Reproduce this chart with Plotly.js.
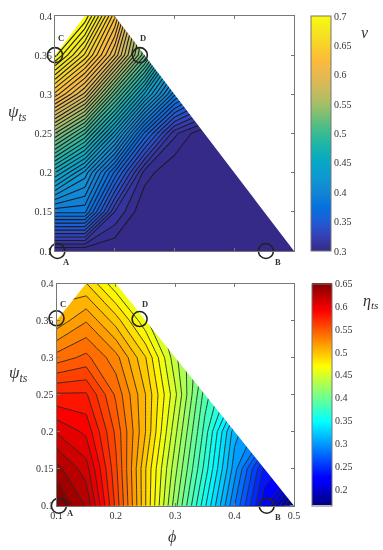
<!DOCTYPE html>
<html><head><meta charset="utf-8">
<script src="https://cdn.plot.ly/plotly-3.0.1.min.js"></script>
<style>html,body{margin:0;padding:0;background:#fff}#c{width:383px;height:550px;filter:blur(0.4px)}</style>
</head><body><div id="c"></div>
<script>
const phi=[0.1,0.15,0.2,0.25,0.3,0.35,0.4,0.45,0.5];
const psi=[0.1,0.15,0.2,0.25,0.3,0.35,0.4];
const _=null;
const nu=[
[0.30,0.30,0.30,0.30,0.30,0.30,0.30,0.30,0.30],
[0.39,0.39,0.324,0.30,0.30,0.30,0.30,0.30,_],
[0.46,0.425,0.37,0.312,0.30,0.30,0.30,_,_],
[0.54,0.50,0.44,0.37,0.318,0.30,_,_,_],
[0.625,0.585,0.515,0.45,0.39,_,_,_,_],
[0.695,0.65,0.595,0.525,_,_,_,_,_],
[_,0.70,0.63,_,_,_,_,_,_]];
const eta=[
[0.65,0.625,0.56,0.49,0.42,0.355,0.29,0.23,0.164],
[0.63,0.61,0.555,0.49,0.43,0.37,0.305,0.245,_],
[0.604,0.592,0.55,0.50,0.44,0.38,0.315,_,_],
[0.575,0.575,0.54,0.50,0.45,0.39,_,_,_],
[0.536,0.545,0.525,0.49,0.44,_,_,_,_],
[0.503,0.52,0.495,0.46,_,_,_,_,_],
[_,0.49,0.46,_,_,_,_,_,_]];
const maskX=[0.2,0.5,0.5,0.2,null,0.1,0.15,0.1,0.1];
const maskY=[0.4,0.1,0.4,0.4,null,0.35,0.4,0.4,0.35];
const markX1=[0.104,0.453,0.1,0.242], markY1=[0.1,0.1,0.35,0.35];
const markX2=[0.104,0.454,0.1,0.24], markY2=[0.1,0.1,0.353,0.352];
const yTicks=[0.1,0.15,0.2,0.25,0.3,0.35,0.4];
const yText=['0.1','0.15','0.2','0.25','0.3','0.35','0.4'];
const xTicks=[0.1,0.2,0.3,0.4,0.5];
const xText=['0.1','0.2','0.3','0.4','0.5'];
const nuBar=[0.3,0.35,0.4,0.45,0.5,0.55,0.6,0.65,0.7];
const etaBar=[0.2,0.25,0.3,0.35,0.4,0.45,0.5,0.55,0.6,0.65];
const parula=[[0,'#352a87'],[0.0625,'#363fb4'],[0.125,'#1f5cd6'],[0.1875,'#0372e0'],[0.25,'#1285d4'],[0.3125,'#0e98d1'],[0.375,'#06a7c6'],[0.4375,'#15b3ae'],[0.5,'#38bb93'],[0.5625,'#6bbe79'],[0.625,'#a5bf66'],[0.6875,'#cbbb5c'],[0.75,'#e8b94e'],[0.8125,'#fdbb3a'],[0.875,'#f7d22a'],[0.9375,'#f5e71d'],[1,'#f9fb0e']];
const jet=[[0,'#00007f'],[0.11,'#0000ff'],[0.125,'#0000ff'],[0.375,'#00ffff'],[0.625,'#ffff00'],[0.875,'#ff0000'],[1,'#7f0000']];
const W=383,H=550;
const ink='#333', frame='#777';
const serif='"Liberation Serif","Times New Roman",serif';
function pane(z,cs,lo,hi,step,start,xa,ya,lw,lc){return {type:'contour',x:phi,y:psi,z:z,xaxis:xa,yaxis:ya,colorscale:cs,zmin:lo,zmax:hi,connectgaps:true,showscale:false,hoverinfo:'skip',
 contours:{coloring:'fill',start:start,end:hi,size:step,showlines:true},line:{color:lc,width:lw,smoothing:0}};}
function bar(cs,lo,hi,vals,xa,ya,top,len,x){return {type:'scatter',x:[null],y:[null],xaxis:xa,yaxis:ya,mode:'markers',hoverinfo:'skip',
 marker:{color:[lo],cmin:lo,cmax:hi,colorscale:cs,showscale:true,colorbar:{thickness:19.5,thicknessmode:'pixels',len:len/H,lenmode:'fraction',x:x/W,xanchor:'left',xpad:0,y:1-(top+len)/H,yanchor:'bottom',ypad:0,outlinecolor:frame,outlinewidth:1,tickvals:vals,ticktext:vals.map(String),ticks:'',tickfont:{family:serif,size:10,color:ink}}}};}
function mask(xa,ya){return {type:'scatter',x:maskX,y:maskY,xaxis:xa,yaxis:ya,mode:'lines',line:{width:0,color:'#fff'},fill:'toself',fillcolor:'#fff',hoverinfo:'skip'};}
function rings(x,y,xa,ya){return {type:'scatter',x:x,y:y,xaxis:xa,yaxis:ya,mode:'markers',cliponaxis:false,hoverinfo:'skip',marker:{symbol:'circle-open',size:15,color:'#222',line:{width:1.6,color:'#222'}}};}
const data=[
 pane(nu,parula,0.3,0.7,0.008,0.308,'x','y',1.1,'#1c1c2a'),
 pane(eta,jet,0.164,0.65,0.0105,0.1745,'x2','y2',0.9,'#2a2a2a'),
 mask('x','y'),mask('x2','y2'),
 rings(markX1,markY1,'x','y'),rings(markX2,markY2,'x2','y2'),
 bar(parula,0.3,0.7,nuBar,'x','y',16,235,311),
 bar(jet,0.164,0.65,etaBar,'x2','y2',283.5,222,312)
];
function xax(l,r,anchor,labels){return {domain:[l/W,r/W],range:[0.1,0.5],anchor:anchor,tickmode:'array',tickvals:xTicks,ticktext:xText,showticklabels:labels,ticks:'inside',ticklen:3,tickcolor:frame,showgrid:false,zeroline:false,showline:true,linecolor:frame,linewidth:1,mirror:'ticks',tickfont:{family:serif,size:10,color:ink}};}
function yax(t,b,anchor){return {domain:[1-b/H,1-t/H],range:[0.1,0.4],anchor:anchor,tickmode:'array',tickvals:yTicks,ticktext:yText,ticks:'inside',ticklen:3,tickcolor:frame,showgrid:false,zeroline:false,showline:true,linecolor:frame,linewidth:1,mirror:'ticks',tickfont:{family:serif,size:10,color:ink}};}
function note(text,px,py,size,extra){return Object.assign({xref:'paper',yref:'paper',x:px/W,y:1-py/H,xanchor:'center',yanchor:'middle',showarrow:false,text:text,font:{family:serif,size:size,color:ink}},extra||{});}
const layout={width:W,height:H,margin:{l:0,r:0,t:0,b:0,pad:0},paper_bgcolor:'#fff',plot_bgcolor:'#fff',showlegend:false,
 xaxis:xax(55,294,'y',false),yaxis:yax(16,251,'x'),
 xaxis2:xax(56.5,294,'y2',true),yaxis2:yax(283.5,505.7,'x2'),
 annotations:[
  note('<i>ψ<sub>ts</sub></i>',17,113,17),
  note('<i>ψ<sub>ts</sub></i>',18,374,17),
  note('<i>ϕ</i>',172,537,16),
  note('<i>ν</i>',365,32,16),
  note('<i>η<sub>ts</sub></i>',371,301,16),
  note('<b>A</b>',66,262,8.5),note('<b>B</b>',278,262,8.5),note('<b>C</b>',61,38,8.5),note('<b>D</b>',143,38,8.5),
  note('<b>A</b>',70,513,8.5),note('<b>B</b>',278,517,8.5),note('<b>C</b>',63,304,8.5),note('<b>D</b>',145,304,8.5)
 ]};
Plotly.newPlot('c',data,layout,{displayModeBar:false,staticPlot:true});
</script></body></html>
